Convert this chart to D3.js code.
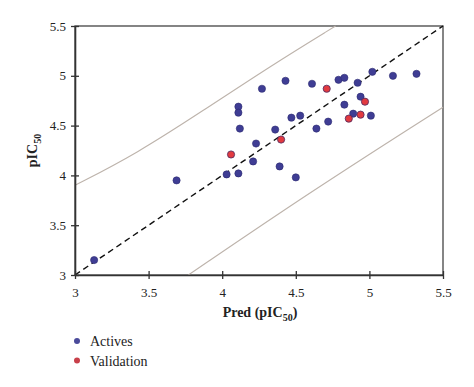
<!DOCTYPE html>
<html>
<head>
<meta charset="utf-8">
<script src="https://cdn.jsdelivr.net/npm/d3@7"></script>
<style>
  body { margin: 0; background: #fff; }
  text { font-family: "Liberation Serif", "DejaVu Serif", serif; fill: #222; }
</style>
</head>
<body>
<svg width="474" height="387"></svg>
<script>
// actives (pred, exp)
let activesPred = [4.27, 4.43, 4.61, 4.11, 4.11, 4.12, 4.47, 4.53, 4.64, 4.36, 4.23, 4.21, 4.39, 4.03, 4.11, 4.50,
  4.79, 4.83, 5.02, 5.16, 5.32, 4.92, 4.94, 4.83, 4.89, 5.01, 4.72, 3.69, 3.13]
let activesExp = [4.87, 4.95, 4.92, 4.69, 4.63, 4.47, 4.58, 4.60, 4.47, 4.46, 4.32, 4.14, 4.09, 4.01, 4.02, 3.98,
  4.96, 4.98, 5.04, 5.00, 5.02, 4.93, 4.79, 4.71, 4.62, 4.60, 4.54, 3.95, 3.15]

// validation set
let validPred = [4.40, 4.06, 4.71, 4.97, 4.86, 4.94]
let validExp = [4.36, 4.21, 4.87, 4.74, 4.57, 4.61]

// prediction band curves
let upperX = [3.0, 3.42, 3.87, 4.33, 4.77]
let upperY = [3.90, 4.22, 4.65, 5.10, 5.5]
let lowerX = [3.77, 4.62, 5.5]
let lowerY = [3.0, 3.855, 4.685]

let ticks = [3, 3.5, 4, 4.5, 5, 5.5]

let svg = d3.select("svg")
let mLeft = 75, mRight = 443, mTop = 26, mBottom = 275

let x = d3.scaleLinear().domain([3, 5.5]).range([mLeft, mRight])
let y = d3.scaleLinear().domain([3, 5.5]).range([mBottom, mTop])

// frame top/right
svg.append("rect")
  .attr("x", mLeft)
  .attr("y", mTop)
  .attr("width", mRight - mLeft)
  .attr("height", mBottom - mTop)
  .attr("fill", "none")
  .attr("stroke", "#444")
  .attr("stroke-width", 1.3)

// bands
let line = d3.line().x(d => x(d[0])).y(d => y(d[1])).curve(d3.curveBasis)
svg.append("path")
  .attr("d", line(d3.zip(upperX, upperY)))
  .attr("fill", "none")
  .attr("stroke", "#bdb3ab")
  .attr("stroke-width", 1.1)
svg.append("path")
  .attr("d", line(d3.zip(lowerX, lowerY)))
  .attr("fill", "none")
  .attr("stroke", "#bdb3ab")
  .attr("stroke-width", 1.1)

// y = x
svg.append("line")
  .attr("x1", x(3)).attr("y1", y(3))
  .attr("x2", x(5.5)).attr("y2", y(5.5))
  .attr("stroke", "#111")
  .attr("stroke-width", 1.4)
  .attr("stroke-dasharray", "6,4")

// axes
let xAxis = svg.append("g")
  .attr("transform", "translate(0," + mBottom + ")")
  .call(d3.axisBottom(x).tickValues(ticks).tickFormat(d3.format("")).tickSizeInner(4).tickSizeOuter(0))
xAxis.select(".domain").attr("stroke", "#333").attr("stroke-width", 1.6)
xAxis.selectAll(".tick line").attr("y1", -4).attr("stroke", "#333").attr("stroke-width", 1.3)
xAxis.selectAll("text").attr("y", 13).style("font-size", "13px").attr("fill", "#222")

let yAxis = svg.append("g")
  .attr("transform", "translate(" + mLeft + ",0)")
  .call(d3.axisLeft(y).tickValues(ticks).tickFormat(d3.format("")).tickSizeInner(4).tickSizeOuter(0))
yAxis.select(".domain").attr("stroke", "#333").attr("stroke-width", 1.6)
yAxis.selectAll(".tick line").attr("x1", 4).attr("stroke", "#333").attr("stroke-width", 1.3)
yAxis.selectAll("text").attr("x", -9).style("font-size", "13px").attr("fill", "#222")

// points
svg.selectAll(".act")
  .data(d3.zip(activesPred, activesExp))
  .enter()
  .append("circle")
  .attr("cx", d => x(d[0]))
  .attr("cy", d => y(d[1]))
  .attr("r", 3.6)
  .attr("fill", "#3f3d94")
  .attr("stroke", "#2c2a70")
  .attr("stroke-width", 0.6)

svg.selectAll(".val")
  .data(d3.zip(validPred, validExp))
  .enter()
  .append("circle")
  .attr("cx", d => x(d[0]))
  .attr("cy", d => y(d[1]))
  .attr("r", 3.6)
  .attr("fill", "#e23a40")
  .attr("stroke", "#4a2a60")
  .attr("stroke-width", 0.8)

// axis titles
let xt = svg.append("text")
  .attr("x", (mLeft + mRight) / 2 + 1)
  .attr("y", 317)
  .attr("text-anchor", "middle")
  .style("font-size", "14px")
  .style("font-weight", "bold")
xt.append("tspan").text("Pred (pIC")
xt.append("tspan").text("50").attr("dy", 4).style("font-size", "10px")
xt.append("tspan").text(")").attr("dy", -4)

let yt = svg.append("text")
  .attr("transform", "translate(37," + ((mTop + mBottom) / 2) + ") rotate(-90)")
  .attr("text-anchor", "middle")
  .style("font-size", "14px")
  .style("font-weight", "bold")
yt.append("tspan").text("pIC")
yt.append("tspan").text("50").attr("dy", 4).style("font-size", "10px")

// legend
let legendNames = ["Actives", "Validation"]
let legendColors = ["#4a4a9a", "#c8404a"]
legendNames.forEach(function (name, i) {
  svg.append("circle")
    .attr("cx", 77)
    .attr("cy", 341 + i * 19.5)
    .attr("r", 3)
    .attr("fill", legendColors[i])
  svg.append("text")
    .attr("x", 90)
    .attr("y", 346 + i * 19.5)
    .style("font-size", "14px")
    .text(name)
})
</script>
</body>
</html>
